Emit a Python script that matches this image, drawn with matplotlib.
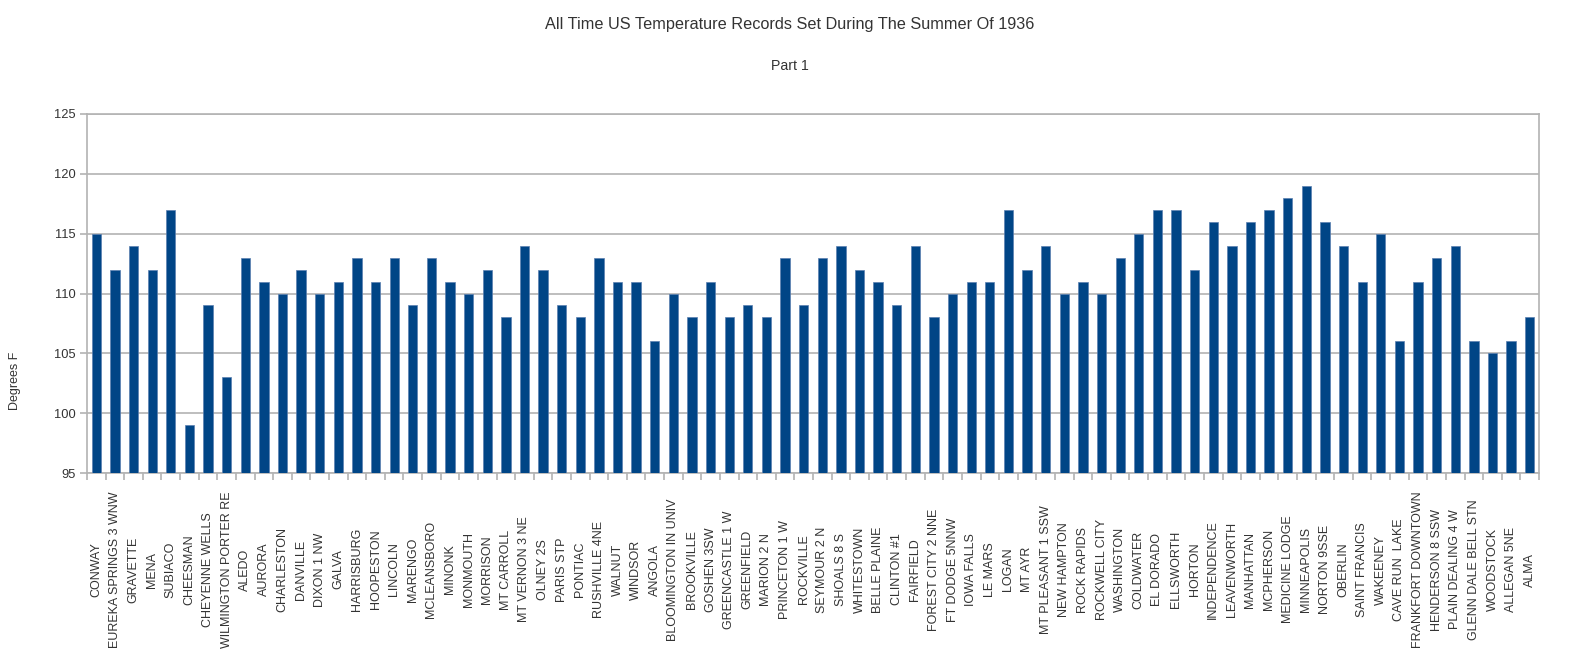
import matplotlib
matplotlib.use("Agg")
import matplotlib.pyplot as plt
import numpy as np

stations = ["CONWAY", "EUREKA SPRINGS 3 WNW", "GRAVETTE", "MENA", "SUBIACO", "CHEESMAN",
            "CHEYENNE WELLS", "WILMINGTON PORTER RE", "ALEDO", "AURORA", "CHARLESTON",
            "DANVILLE", "DIXON 1 NW", "GALVA", "HARRISBURG", "HOOPESTON", "LINCOLN",
            "MARENGO", "MCLEANSBORO", "MINONK", "MONMOUTH", "MORRISON", "MT CARROLL",
            "MT VERNON 3 NE", "OLNEY 2S", "PARIS STP", "PONTIAC", "RUSHVILLE 4NE", "WALNUT",
            "WINDSOR", "ANGOLA", "BLOOMINGTON IN UNIV", "BROOKVILLE", "GOSHEN 3SW",
            "GREENCASTLE 1 W", "GREENFIELD", "MARION 2 N", "PRINCETON 1 W", "ROCKVILLE",
            "SEYMOUR 2 N", "SHOALS 8 S", "WHITESTOWN", "BELLE PLAINE", "CLINTON #1",
            "FAIRFIELD", "FOREST CITY 2 NNE", "FT DODGE 5NNW", "IOWA FALLS", "LE MARS",
            "LOGAN", "MT AYR", "MT PLEASANT 1 SSW", "NEW HAMPTON", "ROCK RAPIDS",
            "ROCKWELL CITY", "WASHINGTON", "COLDWATER", "EL DORADO", "ELLSWORTH", "HORTON",
            "INDEPENDENCE", "LEAVENWORTH", "MANHATTAN", "MCPHERSON", "MEDICINE LODGE",
            "MINNEAPOLIS", "NORTON 9SSE", "OBERLIN", "SAINT FRANCIS", "WAKEENEY",
            "CAVE RUN  LAKE", "FRANKFORT DOWNTOWN", "HENDERSON 8 SSW", "PLAIN DEALING 4 W",
            "GLENN DALE BELL STN", "WOODSTOCK", "ALLEGAN 5NE", "ALMA"]

temps = [115, 112, 114, 112, 117, 99, 109, 103, 113, 111, 110, 112, 110, 111, 113, 111, 113,
         109, 113, 111, 110, 112, 108, 114, 112, 109, 108, 113, 111, 111, 106, 110, 108, 111,
         108, 109, 108, 113, 109, 113, 114, 112, 111, 109, 114, 108, 110, 111, 111, 117, 112,
         114, 110, 111, 110, 113, 115, 117, 117, 112, 116, 114, 116, 117, 118, 119, 116, 114,
         111, 115, 106, 111, 113, 114, 106, 105, 106, 108]

y_ticks = [95, 100, 105, 110, 115, 120, 125]

plt.rcParams['font.family'] = ['Liberation Sans', 'DejaVu Sans']
txt = '#333333'
grid = '#b3b3b3'

fig = plt.figure(figsize=(15.8, 6.64), dpi=100)
ax = fig.add_axes([87 / 1580, 1 - 473 / 664, (1539 - 87) / 1580, (473 - 114) / 664])

x = np.arange(len(stations))
base = y_ticks[0]
ax.bar(x, np.array(temps) - base, bottom=base, width=0.5, color='#004586',
       edgecolor='#5a7fb0', linewidth=0.5, zorder=3)

ax.set_xlim(-0.5, len(stations) - 0.5)
ax.set_ylim(y_ticks[0], y_ticks[-1])
ax.set_yticks(y_ticks)
ax.set_yticklabels([str(v) for v in y_ticks], fontsize=9.3, color=txt)
ax.yaxis.grid(True, color=grid, linewidth=1.2, zorder=0)

ax.set_xticks(x)
ax.set_xticklabels(stations, rotation=90, fontsize=9, color=txt)
for lbl in ax.get_xticklabels():
    lbl.set_va('center')
    lbl.set_ha('center')
ax.set_xticks(np.arange(len(stations) + 1) - 0.5, minor=True)
ax.tick_params(axis='x', which='major', length=0, pad=69.5)
ax.tick_params(axis='x', which='minor', length=5, color=grid, width=1.2)
ax.tick_params(axis='y', length=5, color=grid, width=1.2, pad=3)

for s in ax.spines.values():
    s.set_color(grid)
    s.set_linewidth(1.2)

fig.text(0.5, 1 - 25 / 664, "All Time US Temperature Records Set During The Summer Of 1936",
         ha='center', va='center', fontsize=11.7, color=txt)
fig.text(0.5, 1 - 66 / 664, "Part 1", ha='center', va='center', fontsize=10.2, color=txt)
fig.text(15 / 1580, 1 - 381 / 664, "Degrees F", rotation=90, ha='center', va='center',
         fontsize=9, color=txt)

fig.savefig("out.png", dpi=100)
